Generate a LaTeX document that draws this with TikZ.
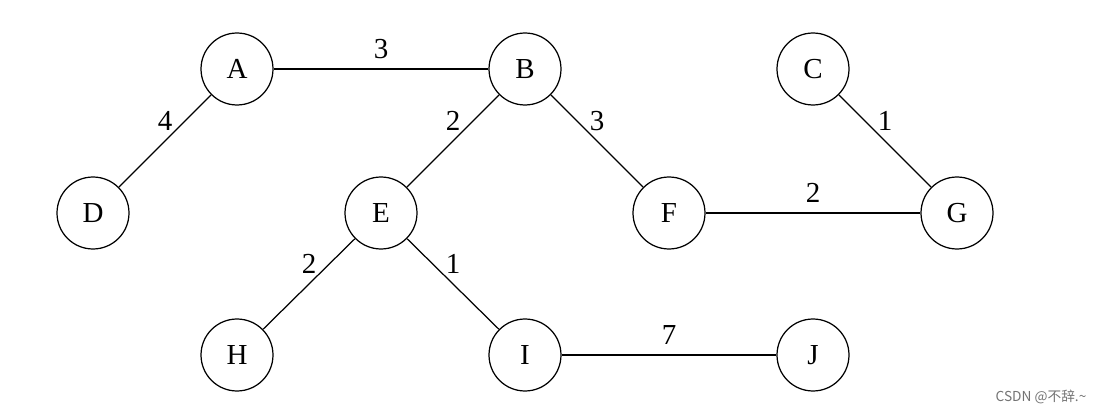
\documentclass[tikz,border=0pt]{standalone}
\usepackage{fontspec}
\setmainfont{Liberation Serif}
\newfontfamily\cjkfont{Noto Sans CJK SC}
\usetikzlibrary{positioning}

\begin{document}
\begin{tikzpicture}[
    x=0.02cm, y=-0.02cm,
    font=\fontsize{16.5}{18}\selectfont,
    vert/.style={draw, circle, minimum size=1.44cm, inner sep=0pt, line width=0.7pt},
    edge/.style={line width=0.7pt},
    wt/.style={midway, yshift=0.4cm, inner sep=1pt},
  ]
    \useasboundingbox (0,0) rectangle (1100,412);

    % vertices
    \node[vert] (A) at (237,69)  {A};
    \node[vert] (B) at (525,69)  {B};
    \node[vert] (C) at (813,69)  {C};
    \node[vert] (D) at (93,213)  {D};
    \node[vert] (E) at (381,213) {E};
    \node[vert] (F) at (669,213) {F};
    \node[vert] (G) at (957,213) {G};
    \node[vert] (H) at (237,355) {H};
    \node[vert] (I) at (525,355) {I};
    \node[vert] (J) at (813,355) {J};

    % weighted edges
    \draw[edge] (A) -- node[wt] {3} (B);
    \draw[edge] (A) -- node[wt] {4} (D);
    \draw[edge] (B) -- node[wt] {2} (E);
    \draw[edge] (B) -- node[wt] {3} (F);
    \draw[edge] (C) -- node[wt] {1} (G);
    \draw[edge] (F) -- node[wt] {2} (G);
    \draw[edge] (E) -- node[wt] {2} (H);
    \draw[edge] (E) -- node[wt] {1} (I);
    \draw[edge] (I) -- node[wt] {7} (J);

    \node[font=\cjkfont\fontsize{7.8}{9}\selectfont, text=black!55] (wm) at (1041,397) {CSDN @不辞.\textasciitilde};
  \end{tikzpicture}
\end{document}
